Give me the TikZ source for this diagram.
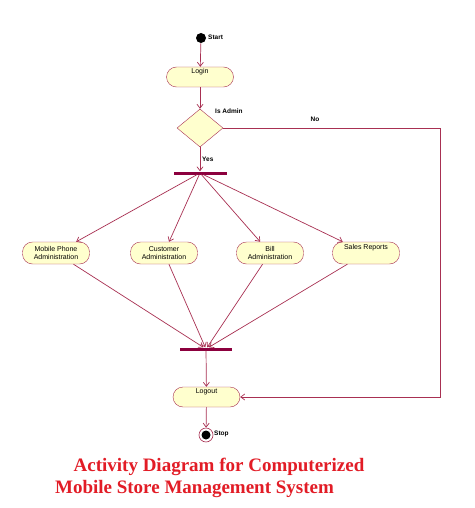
\documentclass[tikz,border=0pt]{standalone}
\usepackage{fontspec}
\setmainfont{Liberation Serif}
\newfontfamily\arialf{Liberation Sans}
\usetikzlibrary{arrows.meta,shapes.geometric}
\definecolor{linec}{RGB}{168,48,82}
\definecolor{actfill}{RGB}{255,255,206}
\definecolor{barc}{RGB}{140,0,62}
\definecolor{titlec}{RGB}{226,28,38}
\begin{document}
\begin{tikzpicture}[x=1pt,y=-1pt,
  act/.style={draw=linec,fill=actfill,rounded corners=10pt,minimum width=67pt,
    minimum height=22pt,inner sep=1pt,align=center,font=\arialf\fontsize{7}{8}\selectfont},
  lift/.style={text height=5pt,text depth=12pt,minimum height=20pt},
  bar/.style={fill=barc,minimum width=53pt,minimum height=3pt,inner sep=0pt},
  lbl/.style={font=\arialf\bfseries\fontsize{6.5}{7}\selectfont,inner sep=0pt},
  flow/.style={draw=linec,line width=0.7pt,-{Straight Barb[length=4pt,width=6pt]}},
  line/.style={draw=linec,line width=0.7pt},
  ttl/.style={font=\bfseries\fontsize{19}{23}\selectfont,text=titlec,inner sep=0pt,anchor=base}]
\useasboundingbox (0,0) rectangle (474,508);
\fill[white] (0,0) rectangle (474,508);
% nodes
\node[circle,fill=black,minimum size=10pt,inner sep=0pt] (start) at (201,38) {};
\node[lbl,anchor=west] (startl) at (208,37) {Start};
\node[act,lift] (login) at (200,77) {Login};
\node[diamond,draw=linec,fill=actfill,minimum width=46pt,minimum height=38pt,inner sep=0pt] (dec) at (200,128) {};
\node[lbl,anchor=west] (decl) at (215,111) {Is Admin};
\node[lbl] (nol) at (315,119) {No};
\node[bar] (fork) at (200,173) {};
\node[lbl,anchor=west] (yesl) at (202,159) {Yes};
\node[act] (mpa) at (56,253) {Mobile Phone\\Administration};
\node[act] (cust) at (164,253) {Customer\\Administration};
\node[act] (bill) at (270,253) {Bill\\Administration};
\node[act,lift,minimum height=22pt] (sales) at (366,253) {Sales Reports};
\node[bar,minimum width=52pt] (join) at (206,349) {};
\node[act,lift] (logout) at (206.5,397) {Logout};
\node[circle,draw=linec,fill=white,line width=0.6pt,minimum size=14pt,inner sep=0pt] (stopo) at (206,435) {};
\node[circle,fill=black,minimum size=9pt,inner sep=0pt] (stop) at (206,435) {};
\node[lbl,anchor=west] (stopl) at (214,434) {Stop};
\coordinate (noc) at (440,128);
% connectors
\draw[flow] (start) -- (login);
\draw[flow] (login) -- (dec);
\draw[flow] (dec) -- (fork);
\draw[line] (dec.east) -- (noc);
\draw[flow] (noc) |- (logout.east);
\foreach \n in {mpa,cust,bill,sales}{
  \draw[flow] (fork) -- (\n);
  \draw[flow] (\n) -- (join);
}
\draw[flow] (join) -- (logout);
\draw[flow] (logout) -- (stopo);
% title
\node[ttl] (t1) at (219,471) {Activity Diagram for Computerized};
\node[ttl] (t2) at (194.5,493) {Mobile Store Management System};
\end{tikzpicture}
\end{document}
